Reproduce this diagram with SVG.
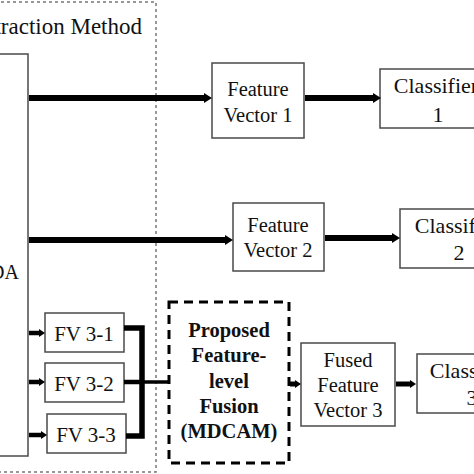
<svg xmlns="http://www.w3.org/2000/svg" width="474" height="474" viewBox="0 0 474 474">
<style>
.box{fill:#fff;stroke:#4a4a4a;stroke-width:1.5}
.t{font-family:"Liberation Serif","Times New Roman",serif;fill:#111;text-anchor:middle}
.b{font-weight:bold}
.ln{stroke:#000;fill:none}
</style>
<defs>
<marker id="ah" viewBox="0 0 8 10" refX="0" refY="5" markerWidth="8" markerHeight="10" markerUnits="userSpaceOnUse" orient="auto">
<path d="M0,0 L8,5 L0,10 z" fill="#000"/>
</marker>
<marker id="ahs" viewBox="0 0 6 8" refX="0" refY="4" markerWidth="6" markerHeight="8" markerUnits="userSpaceOnUse" orient="auto">
<path d="M0,0 L6,4 L0,8 z" fill="#000"/>
</marker>
</defs>
<rect width="474" height="474" fill="#fff"/>
<g id="extraction-region">
<path d="M-5,2 H156 V472 H-5" fill="none" stroke="#777" stroke-width="1.5" stroke-dasharray="3,3"/>
<text class="t" x="142" y="34" font-size="23" style="text-anchor:end">Feature Extraction Method</text>
</g>
<g id="input">
<rect class="box" x="-20" y="54" width="48" height="402"/>
<text class="t" x="19" y="279" font-size="20" style="text-anchor:end">DA</text>
</g>
<g id="fv1">
<rect class="box" x="212" y="63" width="92" height="75"/>
<text class="t" x="258" y="96" font-size="20.5">Feature</text>
<text class="t" x="258" y="122" font-size="20.5">Vector 1</text>
</g>
<g id="cls1">
<rect class="box" x="380" y="69" width="120" height="59"/>
<text class="t" x="436" y="93" font-size="22">Classifier</text>
<text class="t" x="438" y="122" font-size="22">1</text>
</g>
<g id="fv2">
<rect class="box" x="233" y="203" width="91" height="68"/>
<text class="t" x="278" y="232" font-size="20.5">Feature</text>
<text class="t" x="278" y="257" font-size="20.5">Vector 2</text>
</g>
<g id="cls2">
<rect class="box" x="400" y="209" width="120" height="59"/>
<text class="t" x="457" y="233" font-size="22">Classifier</text>
<text class="t" x="459" y="260" font-size="22">2</text>
</g>
<g id="fv31">
<rect class="box" x="45" y="313" width="79" height="39"/>
<text class="t" x="84" y="341" font-size="21">FV 3-1</text>
</g>
<g id="fv32">
<rect class="box" x="45" y="363" width="79" height="39"/>
<text class="t" x="84" y="391" font-size="21">FV 3-2</text>
</g>
<g id="fv33">
<rect class="box" x="47" y="414" width="79" height="39"/>
<text class="t" x="86" y="442" font-size="21">FV 3-3</text>
</g>
<g id="fusion">
<rect x="169" y="302" width="120" height="161" fill="#fff" stroke="#000" stroke-width="3" stroke-dasharray="9,6"/>
<text class="t b" x="229" y="337" font-size="20.5">Proposed</text>
<text class="t b" x="229" y="362" font-size="20.5">Feature-</text>
<text class="t b" x="229" y="388" font-size="20.5">level</text>
<text class="t b" x="229" y="413" font-size="20.5">Fusion</text>
<text class="t b" x="229" y="438" font-size="20.5">(MDCAM)</text>
</g>
<g id="fused">
<rect class="box" x="301" y="343" width="94" height="83"/>
<text class="t" x="348" y="367" font-size="20.5">Fused</text>
<text class="t" x="348" y="392" font-size="20.5">Feature</text>
<text class="t" x="348" y="417" font-size="20.5">Vector 3</text>
</g>
<g id="cls3">
<rect class="box" x="417" y="354" width="120" height="59"/>
<text class="t" x="472" y="378" font-size="22">Classifier</text>
<text class="t" x="472" y="405" font-size="22">3</text>
</g>
<g id="connectors">
<line class="ln" x1="29" y1="98" x2="204" y2="98" stroke-width="6" marker-end="url(#ah)"/>
<line class="ln" x1="305" y1="98" x2="373" y2="98" stroke-width="6" marker-end="url(#ah)"/>
<line class="ln" x1="29" y1="240" x2="225" y2="240" stroke-width="6" marker-end="url(#ah)"/>
<line class="ln" x1="325" y1="238" x2="392" y2="238" stroke-width="6" marker-end="url(#ah)"/>
<line class="ln" x1="29" y1="333" x2="39" y2="333" stroke-width="4.5" marker-end="url(#ahs)"/>
<line class="ln" x1="29" y1="382" x2="39" y2="382" stroke-width="4.5" marker-end="url(#ahs)"/>
<line class="ln" x1="29" y1="435" x2="41" y2="435" stroke-width="4.5" marker-end="url(#ahs)"/>
<path class="ln" d="M124,328 H142 V436 H126" stroke-width="5.5"/>
<line class="ln" x1="124" y1="382" x2="142" y2="382" stroke-width="4.5"/>
<line class="ln" x1="142" y1="382" x2="170" y2="382" stroke-width="3.5"/>
<line class="ln" x1="290" y1="384" x2="295" y2="384" stroke-width="5" marker-end="url(#ahs)"/>
<line class="ln" x1="396" y1="384" x2="410" y2="384" stroke-width="5" marker-end="url(#ahs)"/>
</g>
</svg>
